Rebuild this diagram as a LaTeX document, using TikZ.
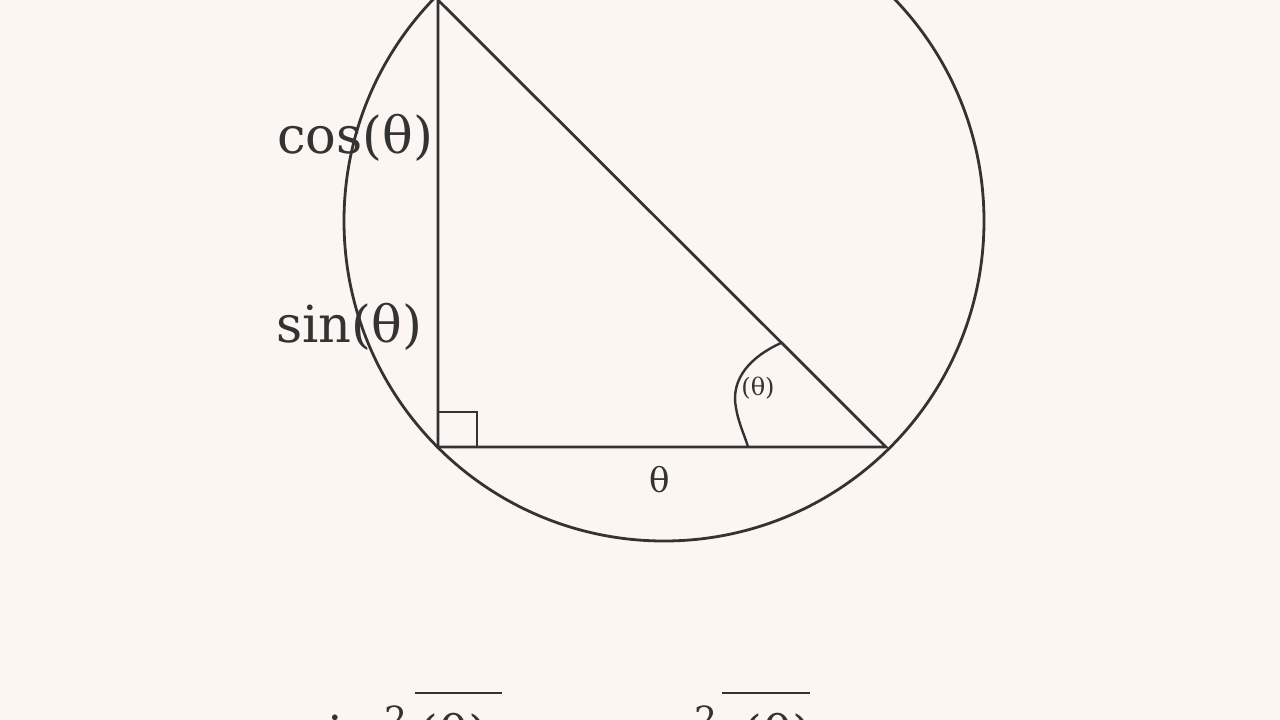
\documentclass[tikz,border=0pt]{standalone}
\usepackage{fontspec}
\setmainfont{DejaVu Serif}
\definecolor{bg}{HTML}{FBF6F1}
\definecolor{ink}{HTML}{333333}
\tikzset{
  geo/.style={draw=ink, line width=2.8pt, line join=miter},
  big/.style={text=ink, inner sep=0pt, font=\fontsize{51}{60}\selectfont},
  mid/.style={text=ink, inner sep=0pt, font=\fontsize{34}{40}\selectfont},
  small/.style={text=ink, inner sep=0pt, font=\fontsize{24}{28}\selectfont},
  sup/.style={text=ink, inner sep=0pt, font=\fontsize{36}{40}\selectfont},
}
\begin{document}
\begin{tikzpicture}[x=1pt,y=-1pt]
\useasboundingbox (0,0) rectangle (1280,720);
\fill[bg] (0,0) rectangle (1280,720);
\clip (0,0) rectangle (1280,720);
% circle
\coordinate (O) at (664,221);
\draw[geo] (O) circle[radius=320];
% triangle
\coordinate (A) at (438,0);
\coordinate (B) at (438,447);
\coordinate (C) at (886,447);
\draw[geo] (A) -- (B) -- (C) -- cycle;
% right angle mark
\coordinate (R1) at (438,412);
\coordinate (R2) at (477,412);
\coordinate (R3) at (477,447);
\draw[draw=ink, line width=2.6pt] (R1) -- (R2) -- (R3);
% angle arc at C
\coordinate (P1) at (781,343);
\coordinate (P2) at (748,447);
\draw[draw=ink, line width=2.4pt] (P1) .. controls (752,356) and (730,378) .. (736,408) .. controls (739,425) and (745,436) .. (P2);
% labels
\node[big, anchor=base west] (cos) at (277,153) {cos(θ)};
\node[big, anchor=base west] (sin) at (276,342) {sin(θ)};
\node[small] (ang) at (758,388) {(θ)};
\node[mid] (bot) at (660,480) {θ};
% bottom partially visible expressions
\node[big, anchor=base west] (s1) at (301,752) {sin};
\node[sup, anchor=base west] (s2) at (384,732) {2};
\node[big, anchor=base west] (s3) at (418,752) {(θ)};
\node[big, anchor=base west] (c1) at (590,752) {cos};
\node[sup, anchor=base west] (c2) at (694,732) {2};
\node[big, anchor=base west] (c3) at (742,752) {(θ)};
\coordinate (L1) at (415,693);
\coordinate (L2) at (502,693);
\coordinate (L3) at (722,693);
\coordinate (L4) at (810,693);
\draw[draw=ink, line width=2.8pt] (L1) -- (L2);
\draw[draw=ink, line width=2.8pt] (L3) -- (L4);
\end{tikzpicture}
\end{document}
